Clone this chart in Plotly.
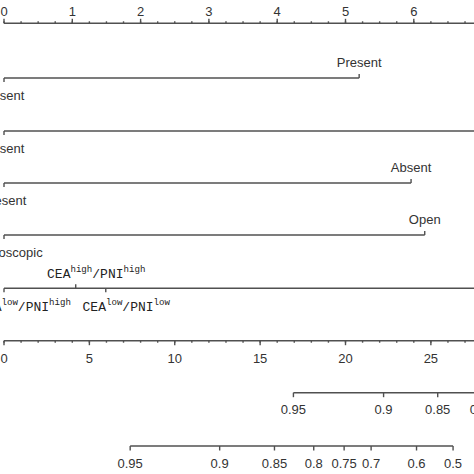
import plotly.graph_objects as go

# top "Points" scale (0.25 minor steps)
points_major = [0, 1, 2, 3, 4, 5, 6, 7]
points_minor = [i * 0.25 for i in range(0, 29)]

# predictor rows: tick positions in points and their labels
row1_pts = [0, 5.2]
row1_lab = ["Absent", "Present"]
row2_pts = [0, 7.4]
row2_lab = ["Absent", "Present"]
row3_pts = [0, 5.96]
row3_lab = ["Present", "Absent"]
row4_pts = [0, 6.16]
row4_lab = ["Laparoscopic", "Open"]
row5_pts = [0, 1.05, 1.49, 7.4]
row5_lab = ["CEA<sup>low</sup>/PNI<sup>high</sup>", "CEA<sup>high</sup>/PNI<sup>high</sup>",
            "CEA<sup>low</sup>/PNI<sup>low</sup>", "CEA<sup>high</sup>/PNI<sup>low</sup>"]

# "Total Points" scale (1 unit minor steps)
total_major = [0, 5, 10, 15, 20, 25, 30]
total_minor = list(range(0, 31))

# risk scales: probability labels at total-points positions
risk1_total = [16.95, 22.23, 25.4, 27.8]
risk1_lab = ["0.95", "0.9", "0.85", "0.8"]
risk2_total = [7.39, 12.63, 15.84, 18.14, 19.92, 21.5, 24.16, 26.3]
risk2_lab = ["0.95", "0.9", "0.85", "0.8", "0.75", "0.7", "0.6", "0.5"]

TOTAL_PER_POINT = 4.0
LINE = "#505050"
TXT = "#333333"
SANS = dict(family="Liberation Sans, Arial, sans-serif", size=13, color=TXT)
MONO = dict(family="Liberation Mono, Courier New, monospace", size=13, color="#222222")

fig = go.Figure()


def seg_trace(xs, y0s, y1s):
    px, py = [], []
    for x, a, b in zip(xs, y0s, y1s):
        px += [x, x, None]
        py += [a, b, None]
    return go.Scatter(x=px, y=py, mode="lines", line=dict(color=LINE, width=1.4),
                      hoverinfo="skip", showlegend=False)


def text_trace(xs, ys, labels, font):
    return go.Scatter(x=xs, y=ys, mode="text", text=labels, textposition="middle center",
                      textfont=font, hoverinfo="skip", showlegend=False)


def add_row(y, xs, labels, font=SANS, x_end=None, lab_dx=0.0):
    right = x_end if x_end is not None else max(xs)
    fig.add_trace(go.Scatter(x=[min(xs), right], y=[y, y], mode="lines",
                             line=dict(color=LINE, width=1.4), hoverinfo="skip", showlegend=False))
    # alternate: first label below (tick down), next above (tick up)
    ups = [i % 2 == 1 for i in range(len(xs))]
    fig.add_trace(seg_trace(xs, [y] * len(xs), [y - 4 if u else y + 4 for u in ups]))
    fig.add_trace(text_trace([x + lab_dx for x in xs],
                             [y - 14 if u else y + 19 for u in ups], labels, font))


# Points axis
y_pts = 23.3
fig.add_trace(go.Scatter(x=[0, 7.5], y=[y_pts, y_pts], mode="lines",
                         line=dict(color=LINE, width=1.4), hoverinfo="skip", showlegend=False))
fig.add_trace(seg_trace(points_minor, [y_pts] * len(points_minor), [y_pts - 2] * len(points_minor)))
fig.add_trace(seg_trace(points_major, [y_pts] * len(points_major), [y_pts - 4.5] * len(points_major)))
fig.add_trace(text_trace(points_major, [13] * len(points_major), [str(v) for v in points_major], SANS))

add_row(78, row1_pts, row1_lab)
add_row(131, row2_pts, row2_lab, x_end=7.5)
add_row(183, row3_pts, row3_lab)
add_row(235, row4_pts, row4_lab)
add_row(288.3, row5_pts, row5_lab, font=MONO, lab_dx=0.3)

# Total points axis
y_tot = 340.7
tmin = [v / TOTAL_PER_POINT for v in total_minor]
tmaj = [v / TOTAL_PER_POINT for v in total_major]
fig.add_trace(go.Scatter(x=[0, 7.5], y=[y_tot, y_tot], mode="lines",
                         line=dict(color=LINE, width=1.4), hoverinfo="skip", showlegend=False))
fig.add_trace(seg_trace(tmin, [y_tot] * len(tmin), [y_tot + 2] * len(tmin)))
fig.add_trace(seg_trace(tmaj, [y_tot] * len(tmaj), [y_tot + 4.5] * len(tmaj)))
fig.add_trace(text_trace(tmaj, [360] * len(tmaj), [str(v) for v in total_major], SANS))

# Risk axes
for y_r, tot, lab in [(392.7, risk1_total, risk1_lab), (446, risk2_total, risk2_lab)]:
    xs = [v / TOTAL_PER_POINT for v in tot]
    fig.add_trace(go.Scatter(x=[min(xs), max(xs)], y=[y_r, y_r], mode="lines",
                             line=dict(color=LINE, width=1.4), hoverinfo="skip", showlegend=False))
    fig.add_trace(seg_trace(xs, [y_r] * len(xs), [y_r + 4.5] * len(xs)))
    fig.add_trace(text_trace(xs, [y_r + 18.5] * len(xs), lab, SANS))

fig.update_layout(
    width=474, height=474,
    margin=dict(l=0, r=0, t=0, b=0),
    paper_bgcolor="white", plot_bgcolor="white",
    xaxis=dict(range=[-4 / 68.3, 470 / 68.3], visible=False),
    yaxis=dict(range=[474, 0], visible=False),
)

fig.write_html("out.html", config={"displayModeBar": False},
               post_script="document.body.style.margin='0';")
